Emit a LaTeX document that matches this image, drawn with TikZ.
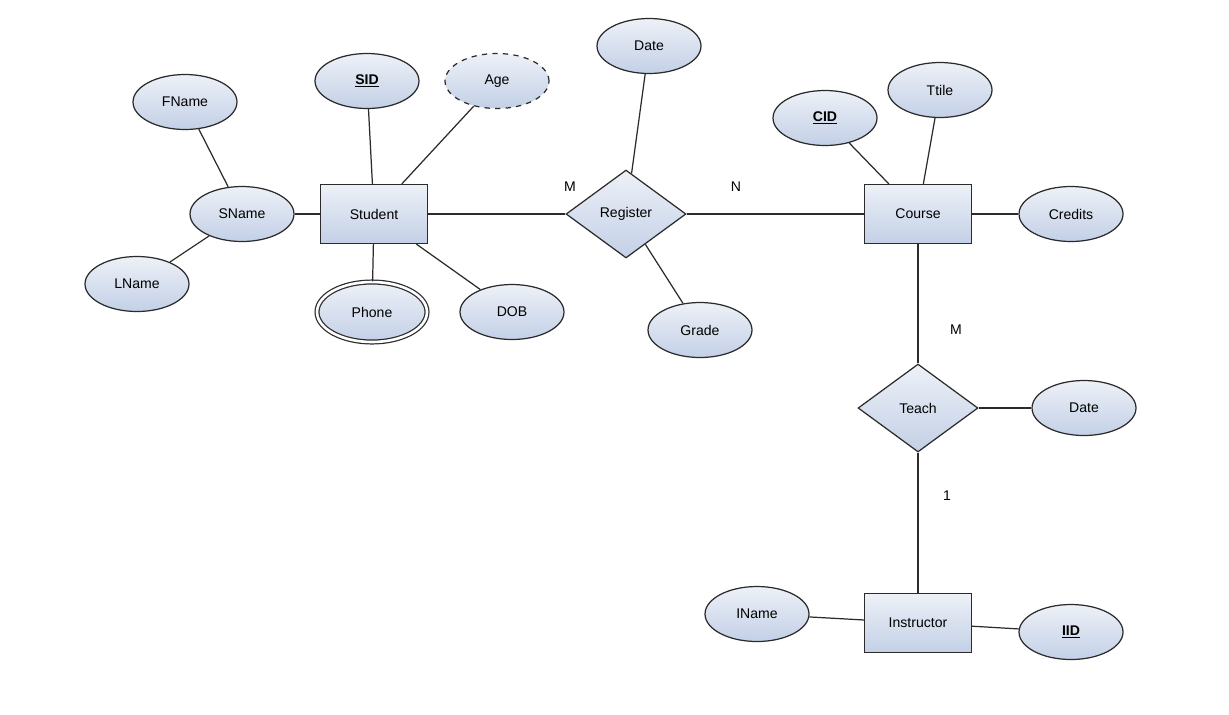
\documentclass[tikz,border=0pt]{standalone}
\usepackage{fontspec}
\setmainfont{Liberation Sans}
\usetikzlibrary{shapes.geometric}
\definecolor{fillb}{HTML}{C3D0E6}
\definecolor{edgec}{HTML}{2B2B2B}
\begin{document}
\begin{tikzpicture}[x=0.02cm,y=-0.02cm,
  base/.style={draw=edgec,line width=0.7pt,top color=white!70!fillb,bottom color=fillb,font=\fontsize{8}{9}\selectfont,inner sep=0pt},
  attr/.style={base,ellipse,minimum width=2.08cm,minimum height=1.1cm},
  ent/.style={base,rectangle,minimum width=2.14cm,minimum height=1.18cm},
  rel/.style={base,diamond,minimum width=2.4cm,minimum height=1.76cm,aspect=1.36},
  lbl/.style={font=\fontsize{8}{9}\selectfont},
  ln/.style={draw=edgec,line width=0.7pt}]
\useasboundingbox[fill=white] (0,0) rectangle (1229,714);
\node[attr] (fname) at (185,102) {FName};
\node[attr] (sname) at (242,214) {SName};
\node[attr] (lname) at (137,284) {LName};
\node[attr] (sid) at (367,81) {\textbf{\underline{SID}}};
\node[attr,dashed] (age) at (497,81) {Age};
\node[ent] (student) at (374,214) {Student};
\node[attr,double,double distance=1.5pt,minimum width=2.2cm,minimum height=1.2cm] (phone) at (372,312) {Phone};
\node[attr] (dob) at (512,312) {DOB};
\node[rel] (register) at (626,214) {Register};
\node[attr] (date1) at (649,46) {Date};
\node[attr] (grade) at (700,330) {Grade};
\node[attr] (cid) at (825,118) {\textbf{\underline{CID}}};
\node[attr] (title) at (940,90) {Ttile};
\node[ent] (course) at (918,214) {Course};
\node[attr] (credits) at (1071,214) {Credits};
\node[rel] (teach) at (918,408) {Teach};
\node[attr] (date2) at (1084,408) {Date};
\node[ent] (instr) at (918,623) {Instructor};
\node[attr] (iname) at (757,614) {IName};
\node[attr] (iid) at (1071,632) {\textbf{\underline{IID}}};
\draw[ln] (fname) -- (sname);
\draw[ln] (lname) -- (sname);
\draw[ln] (sname) -- (student);
\draw[ln] (sid) -- (student);
\draw[ln] (age) -- (student);
\draw[ln] (student) -- (phone);
\draw[ln] (student) -- (dob);
\draw[ln] (student) -- (register);
\draw[ln] (date1) -- (register);
\draw[ln] (register) -- (grade);
\draw[ln] (register) -- (course);
\draw[ln] (cid) -- (course);
\draw[ln] (title) -- (course);
\draw[ln] (course) -- (credits);
\draw[ln] (course) -- (teach);
\draw[ln] (teach) -- (date2);
\draw[ln] (teach) -- (instr);
\draw[ln] (iname) -- (instr);
\draw[ln] (instr) -- (iid);
\node[lbl] (m1) at (570,187) {M};
\node[lbl] (n1) at (736,187) {N};
\node[lbl] (m2) at (956,330) {M};
\node[lbl] (o1) at (947,496) {1};
\end{tikzpicture}
\end{document}
